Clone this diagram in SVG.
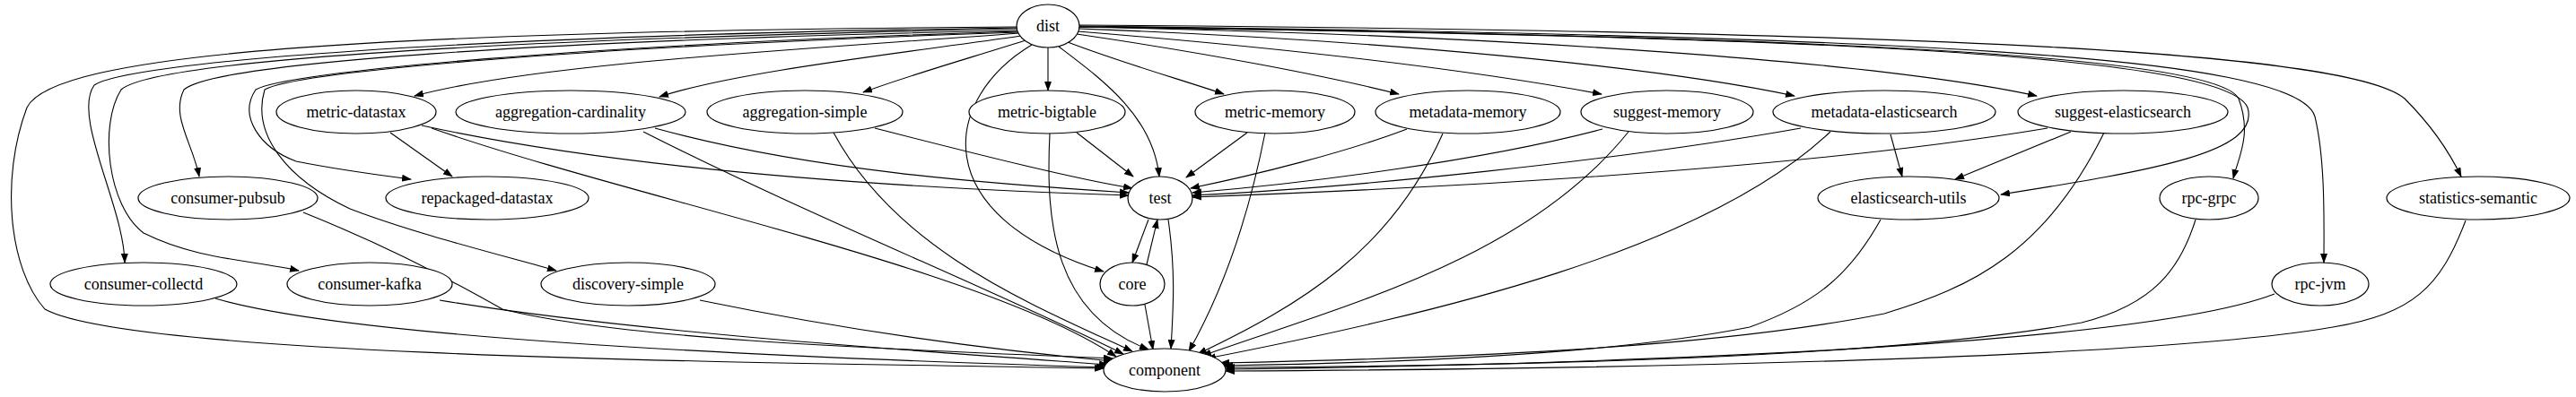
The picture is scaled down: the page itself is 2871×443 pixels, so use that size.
<svg xmlns="http://www.w3.org/2000/svg" width="2871" height="443" viewBox="0 0 2871 443">
<style>
.n ellipse{fill:#fff;stroke:#000;stroke-width:1.2}
.n text{font-family:"Liberation Serif","Times New Roman",serif;font-size:18px;text-anchor:middle;dominant-baseline:central;fill:#000}
#edges path{fill:none;stroke:#000;stroke-width:1.1;marker-end:url(#a)}
</style>
<defs><marker id="a" markerUnits="userSpaceOnUse" markerWidth="11" markerHeight="8" refX="10" refY="4" orient="auto"><path d="M0,0 L11,4 L0,8 z" fill="#000"/></marker></defs>
<g id="edges">
<path d="M1136,37 C900,55 600,70 462,107"/>
<path d="M1138,40 C1000,60 820,80 735,108"/>
<path d="M1143,45 C1080,65 1010,85 962,103"/>
<path d="M1168,53 L1168,101"/>
<path d="M1190,47 C1250,70 1320,90 1364,105"/>
<path d="M1200,38 C1350,60 1480,85 1559,105"/>
<path d="M1201,35 C1450,55 1650,80 1785,105"/>
<path d="M1202,32 C1550,45 1850,75 2000,107"/>
<path d="M1202,30 C1700,40 2100,70 2270,107"/>
<path d="M1202,30 C2000,40 2480,60 2505,120 C2520,170 2400,190 2230,217"/>
<path d="M1202,30 C2000,40 2470,60 2495,110 C2510,150 2495,175 2489,199"/>
<path d="M1202,29 C2100,40 2560,60 2580,130 C2592,180 2590,250 2590,293"/>
<path d="M1202,28 C2200,35 2620,60 2680,110 C2710,140 2730,170 2743,197"/>
<path d="M1180,52 C1230,90 1285,130 1292,197"/>
<path d="M1150,50 C1050,110 1030,240 1230,303"/>
<path d="M1134,30 C400,35 60,60 30,120 C0,200 10,300 50,345 C150,400 900,405 1230,411"/>
<path d="M1134,31 C500,40 140,70 105,95 C80,130 138,230 139,293"/>
<path d="M1134,32 C500,45 170,70 135,100 C110,140 120,230 160,260 C220,290 280,290 333,302"/>
<path d="M1135,34 C600,45 240,70 205,100 C190,130 215,160 222,197"/>
<path d="M1136,35 C650,50 320,80 285,100 C265,130 290,165 330,180 C380,190 420,195 458,200"/>
<path d="M1136,36 C650,52 330,80 295,100 C280,150 320,200 390,233 C460,260 560,285 620,302"/>
<path d="M470,140 C700,190 1000,210 1258,218"/>
<path d="M730,143 C900,190 1100,205 1258,215"/>
<path d="M975,143 C1100,175 1200,200 1262,210"/>
<path d="M1200,148 L1263,197"/>
<path d="M1390,148 L1322,198"/>
<path d="M1568,144 C1500,170 1400,195 1327,210"/>
<path d="M1786,144 C1650,180 1450,205 1329,215"/>
<path d="M2007,143 C1800,180 1500,210 1329,218"/>
<path d="M2282,143 C2000,190 1600,210 1329,220"/>
<path d="M2107,150 L2120,197"/>
<path d="M2308,147 L2179,200"/>
<path d="M435,148 L504,197"/>
<path d="M481,143 C700,220 1100,300 1244,398"/>
<path d="M717,147 C900,240 1100,320 1252,395"/>
<path d="M929,148 C1000,280 1150,340 1262,392"/>
<path d="M1170,149 C1165,250 1175,350 1280,390"/>
<path d="M1410,148 C1390,250 1360,330 1325,392"/>
<path d="M1608,149 C1550,280 1450,340 1335,395"/>
<path d="M1815,147 C1700,290 1500,340 1340,397"/>
<path d="M2040,147 C1900,280 1600,350 1345,400"/>
<path d="M2345,148 C2280,280 2200,320 2100,350 C1900,390 1600,400 1360,405"/>
<path d="M2096,245 C2060,310 2020,340 1950,365 C1800,395 1550,405 1364,408"/>
<path d="M2447,245 C2430,300 2400,340 2320,360 C2100,400 1700,408 1366,410"/>
<path d="M2535,328 C2400,380 1900,405 1366,412"/>
<path d="M2748,246 C2720,320 2690,350 2600,365 C2400,400 1800,412 1366,414"/>
<path d="M1280,245 L1262,293"/>
<path d="M1278,295 L1290,245"/>
<path d="M1302,245 C1310,300 1308,340 1305,389"/>
<path d="M1276,340 L1285,390"/>
<path d="M338,237 C420,270 480,300 560,345 C700,380 1000,390 1240,400"/>
<path d="M240,333 C400,380 900,400 1232,410"/>
<path d="M490,335 C700,370 1000,390 1235,407"/>
<path d="M780,335 C950,370 1100,390 1240,403"/>
</g>
<g id="dist" class="n"><ellipse cx="1168" cy="29" rx="35" ry="24"/><text x="1168" y="29">dist</text></g>
<g id="metric-datastax" class="n"><ellipse cx="397" cy="125" rx="89" ry="24"/><text x="397" y="125">metric-datastax</text></g>
<g id="aggregation-cardinality" class="n"><ellipse cx="636" cy="125" rx="128" ry="24"/><text x="636" y="125">aggregation-cardinality</text></g>
<g id="aggregation-simple" class="n"><ellipse cx="897" cy="125" rx="109" ry="24"/><text x="897" y="125">aggregation-simple</text></g>
<g id="metric-bigtable" class="n"><ellipse cx="1167" cy="125" rx="87" ry="24"/><text x="1167" y="125">metric-bigtable</text></g>
<g id="metric-memory" class="n"><ellipse cx="1421" cy="125" rx="89" ry="24"/><text x="1421" y="125">metric-memory</text></g>
<g id="metadata-memory" class="n"><ellipse cx="1636" cy="125" rx="103" ry="24"/><text x="1636" y="125">metadata-memory</text></g>
<g id="suggest-memory" class="n"><ellipse cx="1858" cy="125" rx="96" ry="24"/><text x="1858" y="125">suggest-memory</text></g>
<g id="metadata-elasticsearch" class="n"><ellipse cx="2100" cy="125" rx="124" ry="24"/><text x="2100" y="125">metadata-elasticsearch</text></g>
<g id="suggest-elasticsearch" class="n"><ellipse cx="2366" cy="125" rx="117" ry="24"/><text x="2366" y="125">suggest-elasticsearch</text></g>
<g id="consumer-pubsub" class="n"><ellipse cx="254" cy="221" rx="100" ry="24"/><text x="254" y="221">consumer-pubsub</text></g>
<g id="repackaged-datastax" class="n"><ellipse cx="543" cy="221" rx="113" ry="24"/><text x="543" y="221">repackaged-datastax</text></g>
<g id="test" class="n"><ellipse cx="1293" cy="221" rx="36" ry="24"/><text x="1293" y="221">test</text></g>
<g id="elasticsearch-utils" class="n"><ellipse cx="2127" cy="221" rx="101" ry="24"/><text x="2127" y="221">elasticsearch-utils</text></g>
<g id="rpc-grpc" class="n"><ellipse cx="2462" cy="221" rx="55" ry="24"/><text x="2462" y="221">rpc-grpc</text></g>
<g id="statistics-semantic" class="n"><ellipse cx="2762" cy="221" rx="102" ry="24"/><text x="2762" y="221">statistics-semantic</text></g>
<g id="consumer-collectd" class="n"><ellipse cx="160" cy="317" rx="104" ry="24"/><text x="160" y="317">consumer-collectd</text></g>
<g id="consumer-kafka" class="n"><ellipse cx="412" cy="317" rx="92" ry="24"/><text x="412" y="317">consumer-kafka</text></g>
<g id="discovery-simple" class="n"><ellipse cx="700" cy="317" rx="97" ry="24"/><text x="700" y="317">discovery-simple</text></g>
<g id="core" class="n"><ellipse cx="1262" cy="317" rx="36" ry="24"/><text x="1262" y="317">core</text></g>
<g id="rpc-jvm" class="n"><ellipse cx="2586" cy="317" rx="54" ry="24"/><text x="2586" y="317">rpc-jvm</text></g>
<g id="component" class="n"><ellipse cx="1298" cy="413" rx="68" ry="24"/><text x="1298" y="413">component</text></g>
</svg>
